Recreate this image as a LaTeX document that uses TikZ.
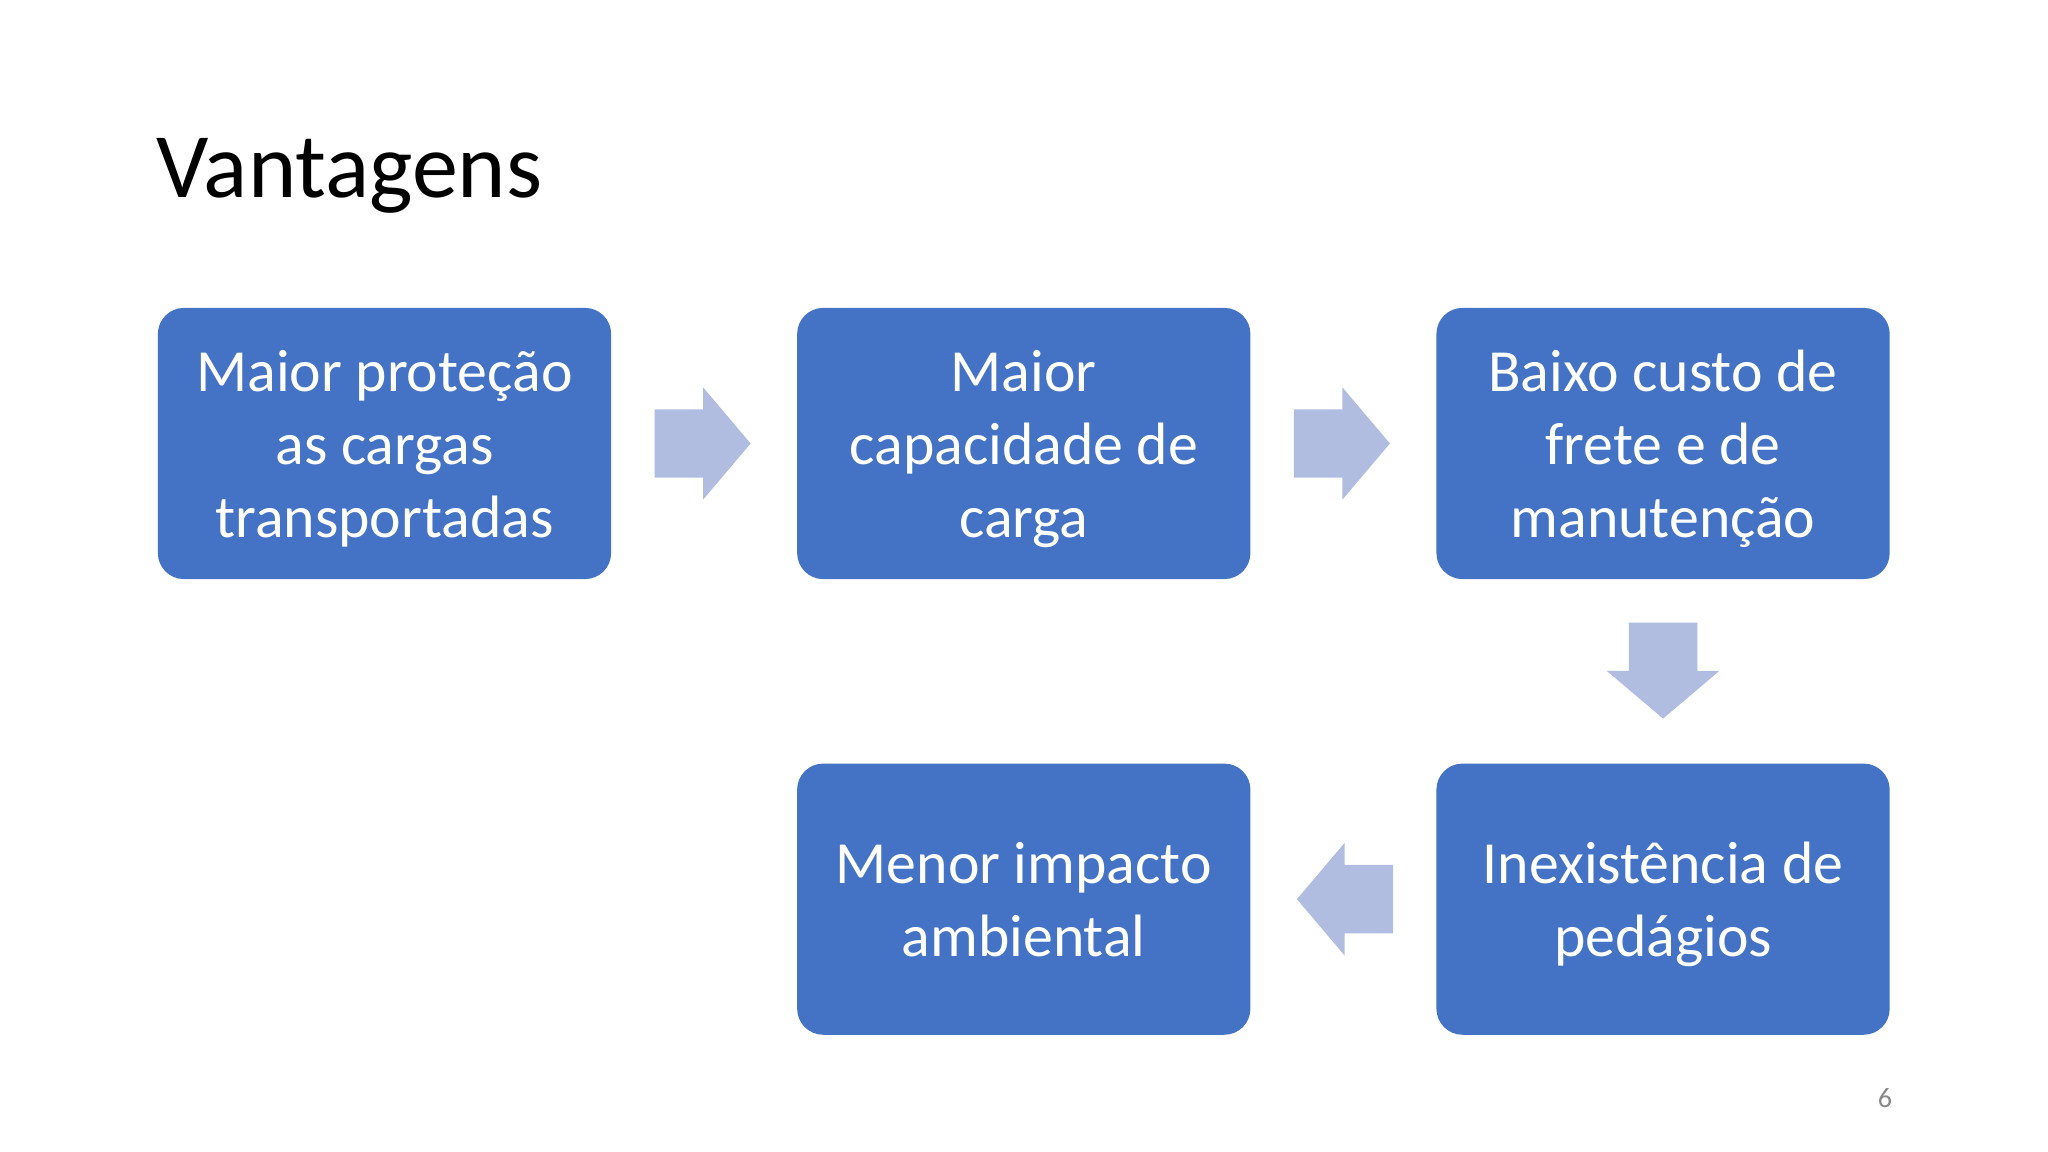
\documentclass[tikz,border=0pt]{standalone}
\usepackage{fontspec}
\setmainfont{Carlito}
\usetikzlibrary{positioning,shapes.arrows,calc}
\definecolor{boxblue}{RGB}{68,114,196}
\definecolor{arrowlav}{RGB}{176,188,224}
\definecolor{pagegray}{RGB}{137,137,137}

\begin{document}
\begin{tikzpicture}[x=0.01cm, y=-0.01cm, every node/.style={inner sep=0pt}]
        \tikzset{
            box/.style={fill=boxblue, rounded corners=0.26cm, align=flush center, text width=4.53cm, text=white, minimum width=4.53cm, minimum height=2.71cm, font=\fontsize{17}{20.8}\selectfont,
                execute at begin node={\rule{0pt}{0.57cm}}, execute at end node={\rule[-0.15cm]{0pt}{0.15cm}}},
            flow/.style={single arrow, fill=arrowlav, minimum height=0.96cm, inner ysep=0.335cm, inner xsep=0pt, single arrow head extend=0.22cm, single arrow tip angle=99.5, single arrow head indent=0pt},
            flowdown/.style={flow, shape border rotate=270, inner xsep=0.335cm, inner ysep=0pt}
        }
        \useasboundingbox (0,0) rectangle (2048,1152);

        % Title and slide number
        \node[anchor=base west, font=\fontsize{26.2}{32}\selectfont] (title) at (156,198) {Vantagens};
        \node[anchor=base, text=pagegray, font=\fontsize{8}{9.6}\selectfont] (page) at (1885,1107) {6};

        % Top row, left to right
        \node[box] (protecao) at (384.5,443.5) {Maior proteção\\as cargas\\transportadas};
        \node[box, right=1.845cm of protecao] (capacidade) {Maior\\capacidade de\\carga};
        \node[box, right=1.845cm of capacidade] (custo) {Baixo custo de\\frete e de\\manutenção};

        % Bottom row, right to left
        \node[box, below=1.83cm of custo] (pedagios) {Inexistência de\\pedágios};
        \node[box, left=1.845cm of pedagios] (impacto) {Menor impacto\\ambiental};

        % Block arrows between the boxes
        \node[flow, right=0.42cm of protecao] (a1) {};
        \node[flow, right=0.42cm of capacidade] (a2) {};
        \node[flowdown, below=0.42cm of custo] (a3) {};
        \node[flow, shape border rotate=180, left=0.42cm of pedagios] (a4) {};
    \end{tikzpicture}
\end{document}
